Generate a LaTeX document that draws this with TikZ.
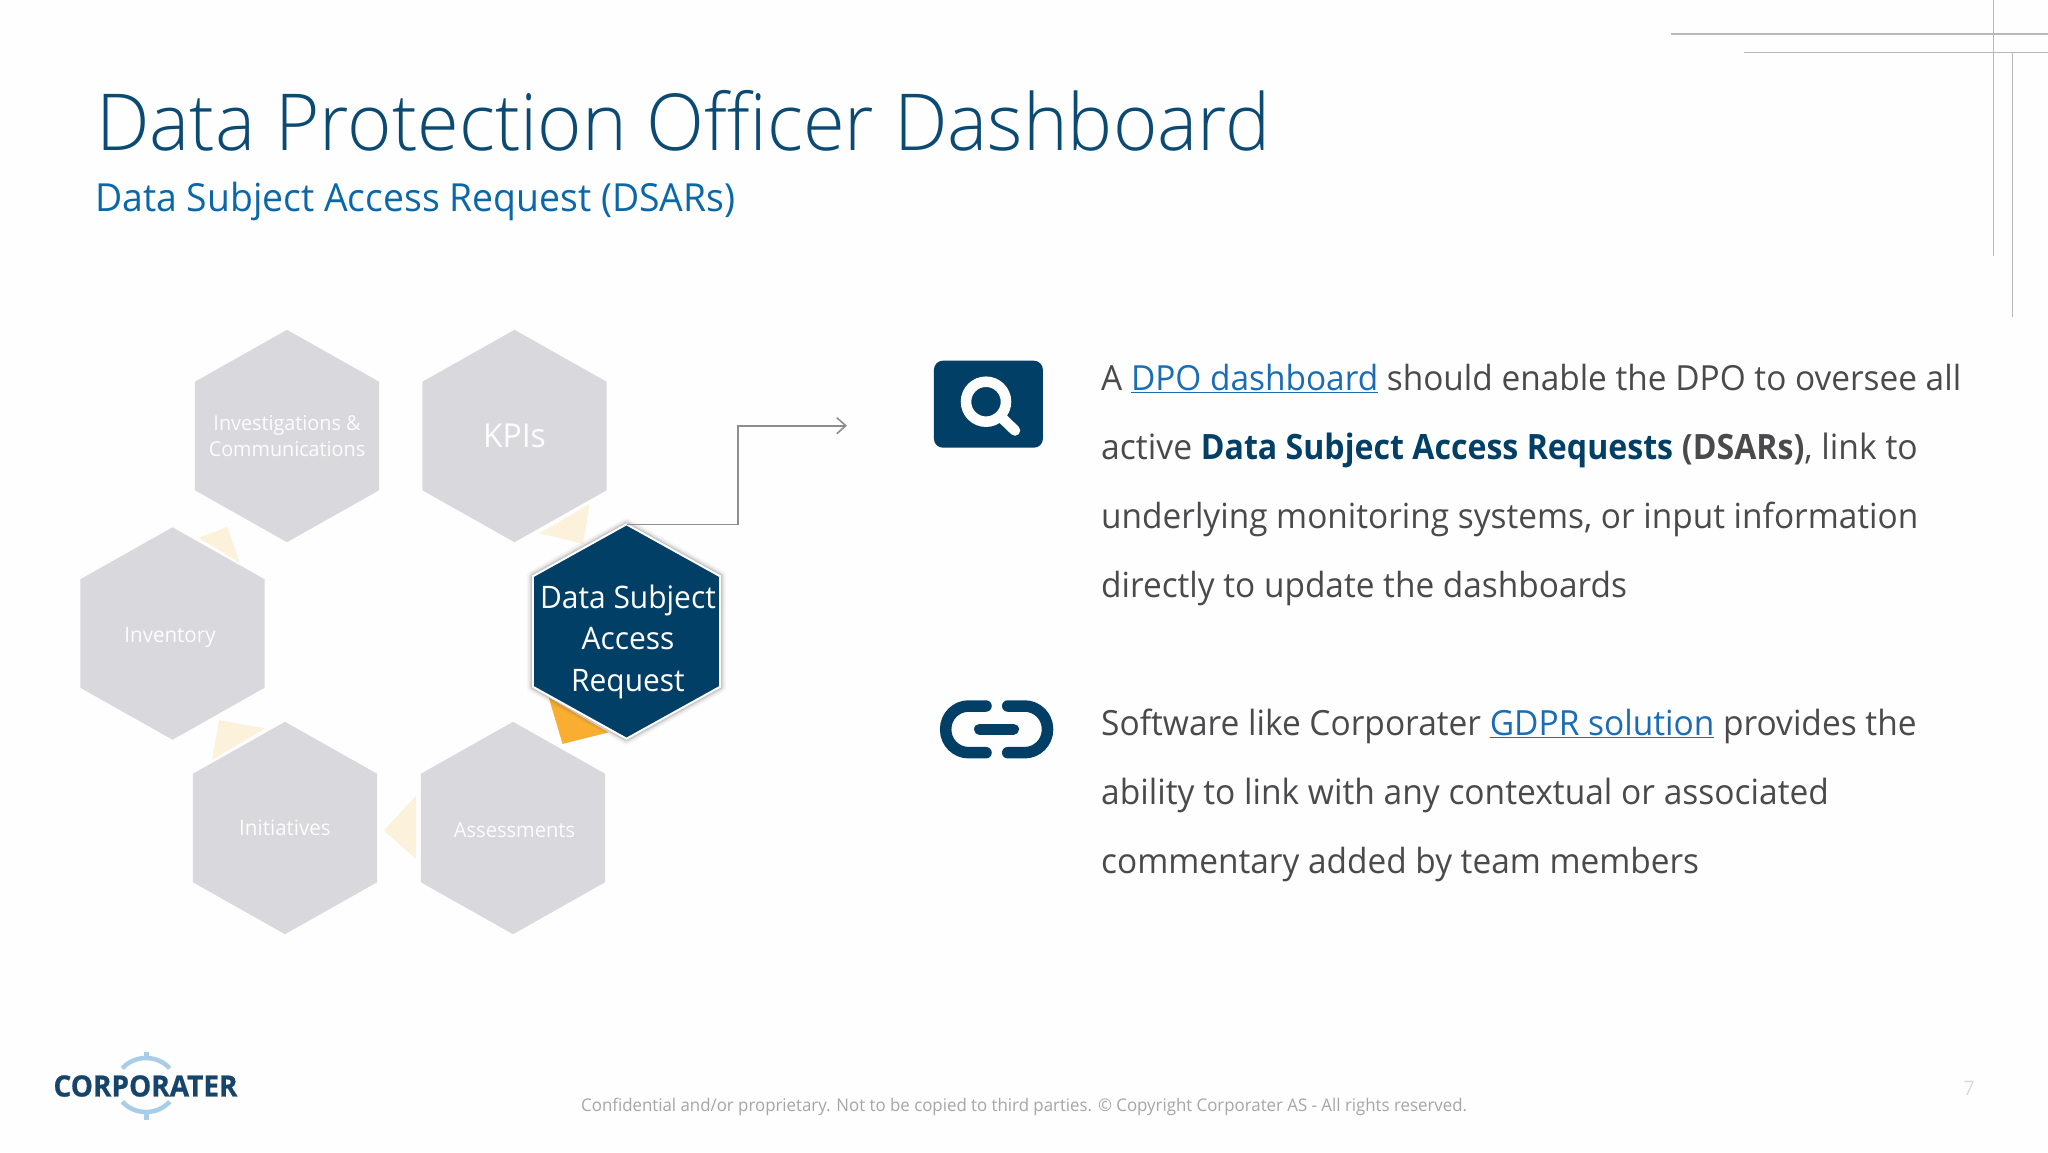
\documentclass[tikz,border=0pt]{standalone}
\usepackage{fontspec}
\setmainfont{Open Sans}[FakeStretch=0.965,BoldFeatures={FakeStretch=0.92}]
\newfontfamily\logofont{Open Sans}[FakeStretch=0.965,BoldFeatures={FakeStretch=0.955,FakeBold=0.7}]
\newfontfamily\lightfont{Open Sans Light}[FakeStretch=0.965]
\usetikzlibrary{arrows.meta}
\definecolor{bgc}{HTML}{FEFEFE}
\definecolor{hexc}{HTML}{D9D8DC}
\definecolor{navy}{HTML}{023F66}
\definecolor{titlec}{HTML}{0B4A73}
\definecolor{subc}{HTML}{0B68A8}
\definecolor{bodyc}{HTML}{4A4A4C}
\definecolor{linkc}{HTML}{1A6DB5}
\definecolor{palec}{HTML}{FCF1DA}
\definecolor{orangec}{HTML}{F9AE32}
\definecolor{rulec}{HTML}{B8B8BB}
\definecolor{connc}{HTML}{8E8E92}
\definecolor{footc}{HTML}{A6A6A6}
\definecolor{logoc}{HTML}{A8CDE8}
\definecolor{logot}{HTML}{15456B}
\newcommand{\fs}[1]{\fontsize{#1pt}{#1pt}\selectfont}
\newcommand{\hexpath}[1]{(#1.north) -- ([yshift=-52pt]#1.north east) -- ([yshift=52pt]#1.south east) -- (#1.south) -- ([yshift=52pt]#1.south west) -- ([yshift=-52pt]#1.north west) -- cycle}
\tikzset{
  hexshape/.style={inner sep=0pt,minimum width=184pt,minimum height=212pt},
  hextext/.style={inner sep=0pt,align=center,text=white!95!hexc,font=\fs{20.5}},
  bodyline/.style={anchor=base west,inner sep=0pt,text=bodyc,font=\fs{34.6}},
  paletri/.style={fill=palec},
  rulerline/.style={draw=rulec,line width=1.3pt},
  iconline/.style={draw=navy,line width=11.5pt,line cap=round},
}
\begin{document}
\begin{tikzpicture}[x=1pt,y=-1pt]
\useasboundingbox (0,0) rectangle (2048,1152);
\fill[bgc] (0,0) rectangle (2048,1152);
% corner rules
\draw[rulerline] (1671,34) -- (2048,34);
\draw[rulerline] (1744,52.3) -- (2048,52.3);
\draw[rulerline] (1993.3,0) -- (1993.3,256);
\draw[rulerline] (2012.3,52.3) -- (2012.3,317);
% title
\node[anchor=base west,inner sep=0pt,text=titlec,font=\lightfont\fs{78.6}] (title) at (96,150) {Data Protection Officer Dashboard};
\node[anchor=base west,inner sep=0pt,text=subc,font=\fs{38.7}] (subtitle) at (95,211) {Data Subject Access Request (DSARs)};
% pale triangles
\fill[paletri] (589.6,503.9) -- (583,543.9) -- (539.6,533.3) -- cycle;
\fill[paletri] (227.3,527) -- (240,563) -- (198.8,537.8) -- cycle;
\fill[paletri] (219.2,720.2) -- (265,728.4) -- (212,759.8) -- cycle;
\fill[paletri] (416,795.7) -- (384,830.4) -- (416,859) -- cycle;
\fill[orangec] (548.8,697.8) -- (608.5,732.4) -- (562.6,743.9) -- cycle;
% hexagons
\node[hexshape] (ic) at (287,436) {};
\fill[hexc] \hexpath{ic};
\node[hextext] (ict) at (287,436) {Investigations \&\\[6pt]Communications};
\node[hexshape] (kpi) at (514.5,436) {};
\fill[hexc] \hexpath{kpi};
\node[hextext,font=\fs{33}] (kpit) at (514.5,436) {KPIs};
\node[hexshape] (inv) at (172.5,633.5) {};
\fill[hexc] \hexpath{inv};
\node[hextext,font=\fs{21.3}] (invt) at (170,637.5) {Inventory};
\node[hexshape] (ini) at (285,828) {};
\fill[hexc] \hexpath{ini};
\node[hextext,font=\fs{21.3}] (init) at (285,828) {Initiatives};
\node[hexshape] (ass) at (513,828) {};
\fill[hexc] \hexpath{ass};
\node[hextext,font=\fs{20.8}] (asst) at (514.5,830) {Assessments};
% focused hexagon
\node[inner sep=0pt,minimum width=187pt,minimum height=214pt] (dsar) at (626.5,631.5) {};
\foreach \w/\o in {12/0.03,9/0.05,6/0.07,4/0.1}{
  \draw[black,opacity=\o,line width=\w pt,line join=round] \hexpath{dsar};
}
\draw[white,fill=navy,line width=2pt,line join=miter] \hexpath{dsar};
\node[align=center,text=white,font=\fs{31},inner sep=0pt] (dsart) at (628,641.5) {Data Subject\\[10.5pt]Access\\[10.5pt]Request};
% connector
\coordinate (arrowend) at (847,425.7);
\draw[connc,line width=1.6pt,-{Straight Barb[length=9pt,width=16pt,line width=1.6pt]}] (dsar.north) -| (738,425.7) -- (arrowend);
% icons
\node[fill=navy,rounded corners=9pt,minimum width=109pt,minimum height=87pt,inner sep=0pt] (search) at (988.4,404.2) {};
\draw[white,line width=10.5pt] (986,401.7) circle[radius=20];
\draw[white,line width=10.5pt,line cap=round] (1002,418) -- (1015,430.5);
\draw[iconline,rounded corners=23pt] (986,706) -- (945.7,706) -- (945.7,752.7) -- (986,752.7);
\draw[iconline,rounded corners=23pt] (1007.7,706) -- (1047.5,706) -- (1047.5,752.7) -- (1007.7,752.7);
\draw[iconline,line width=11pt] (979.5,729.3) -- (1013.5,729.3);
% body text
\node[bodyline] (l1) at (1101,390) {A \textcolor{linkc}{\underline{DPO dashboard}} should enable the DPO to oversee all};
\node[bodyline,font=\fs{34.9}] (l2) at (1101,459.3) {active \textcolor{navy}{\textbf{Data Subject Access Requests}} \textbf{(DSARs)}, link to};
\node[bodyline] (l3) at (1101,528.5) {underlying monitoring systems, or input information};
\node[bodyline] (l4) at (1101,597.7) {directly to update the dashboards};
\node[bodyline,font=\fs{34.7}] (l5) at (1101,735) {Software like Corporater \textcolor{linkc}{\underline{GDPR solution}} provides the};
\node[bodyline,font=\fs{34.75}] (l6) at (1101,804.3) {ability to link with any contextual or associated};
\node[bodyline] (l7) at (1101,873.5) {commentary added by team members};
% logo
\draw[logoc,line width=4.5pt] plot[domain=38:142,samples=30,smooth] ({146+30*cos(\x)},{1085-27*sin(\x)});
\draw[logoc,line width=4.5pt] plot[domain=218:322,samples=30,smooth] ({146+30*cos(\x)},{1085-27*sin(\x)});
\draw[logoc,line width=5pt] (146,1052) -- (146,1060);
\draw[logoc,line width=5pt] (146,1110) -- (146,1120);
\node[inner sep=0pt,text=logot,font=\logofont\fs{29.3}\bfseries] (logo) at (145.5,1086) {CORPORATER};
% footer
\node[anchor=base west,inner sep=0pt,text=footc,font=\fs{17.45}] (foot) at (581,1111) {Confidential and/or proprietary. Not to be copied to third parties. © Copyright Corporater AS - All rights reserved.};
\node[inner sep=0pt,text=hexc,font=\fs{20}] (page) at (1969,1088) {7};
\end{tikzpicture}
\end{document}
